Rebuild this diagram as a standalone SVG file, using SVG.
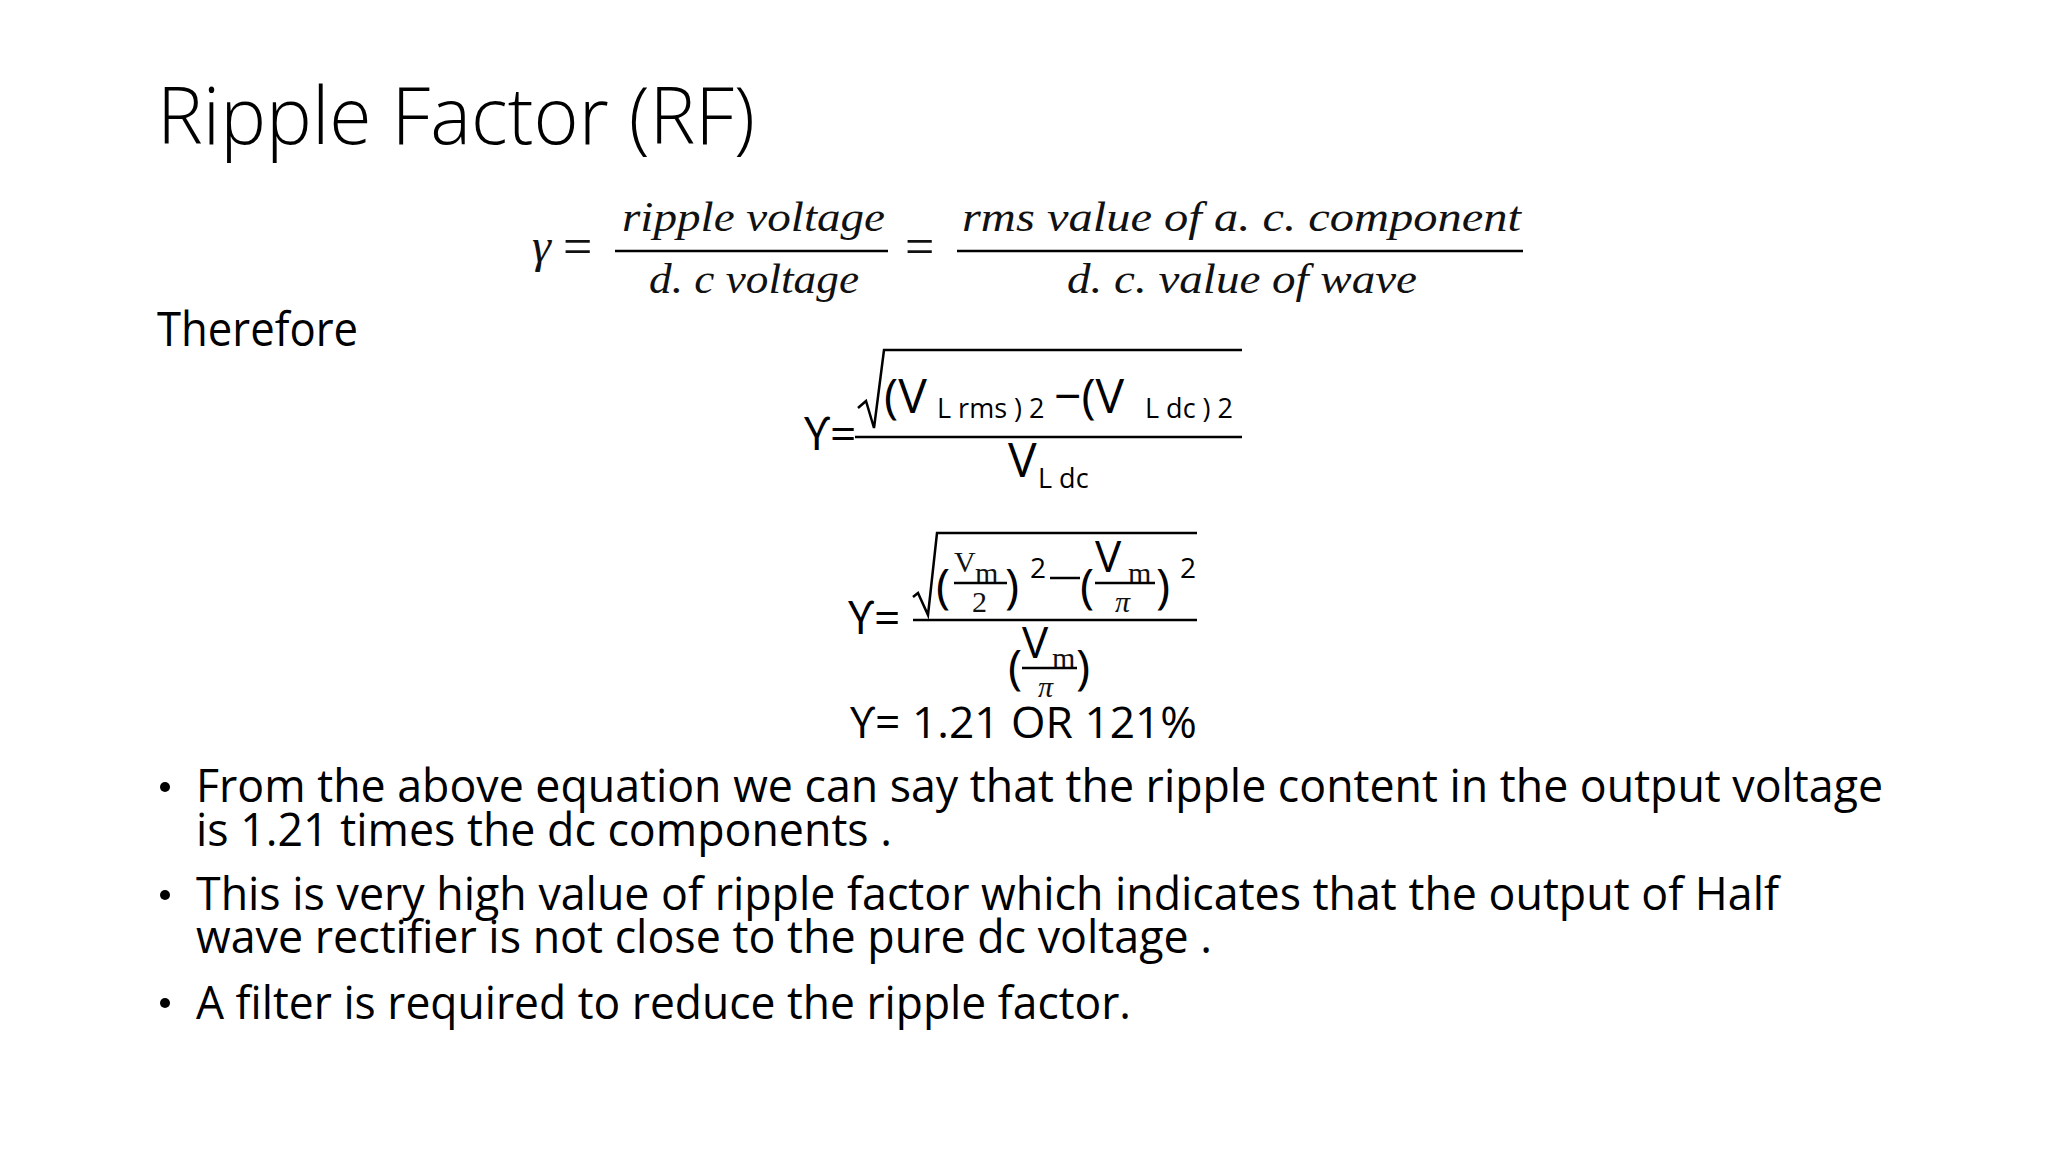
<svg xmlns="http://www.w3.org/2000/svg" width="2048" height="1152" viewBox="0 0 2048 1152">
<style>
.s{font-family:"Open Sans","Liberation Sans",sans-serif;fill:#000}
.i{font-family:"Liberation Serif",serif;font-style:italic;fill:#111}
.m{font-family:"Liberation Serif",serif;fill:#111}
.ln{stroke:#000;stroke-width:2.5;fill:none}
</style>
<rect width="2048" height="1152" fill="#fff"/>
<g id="title"><text class="s" x="157" y="144" font-size="80" font-weight="300" textLength="598" lengthAdjust="spacingAndGlyphs">Ripple Factor (RF)</text></g>
<g id="eq1">
<text class="i" x="532" y="262" font-size="48">γ</text>
<text class="m" x="563" y="264" font-size="52">=</text>
<text class="i" x="622" y="231" font-size="42" textLength="263" lengthAdjust="spacingAndGlyphs">ripple voltage</text>
<line class="ln" x1="615" y1="251" x2="888" y2="251"/>
<text class="i" x="649" y="293" font-size="42" textLength="210" lengthAdjust="spacingAndGlyphs">d. c voltage</text>
<text class="m" x="905" y="264" font-size="52">=</text>
<text class="i" x="962" y="231" font-size="42" textLength="559" lengthAdjust="spacingAndGlyphs">rms value of a. c. component</text>
<line class="ln" x1="957" y1="251" x2="1523" y2="251"/>
<text class="i" x="1067" y="293" font-size="42" textLength="350" lengthAdjust="spacingAndGlyphs">d. c. value of wave</text>
</g>
<g id="therefore"><text class="s" x="157" y="346" font-size="48" textLength="201" lengthAdjust="spacingAndGlyphs">Therefore</text></g>
<g id="eq2">
<text class="s" x="804" y="450" font-size="46">ϒ=</text>
<path class="ln" d="M858 408 L866 401 L874 428 L884 350 L1242 350" stroke-width="2"/>
<text class="s" x="884" y="413" font-size="48">(V</text>
<text class="s" x="937" y="418" font-size="27">L rms ) 2</text>
<text class="s" x="1054" y="413" font-size="48">−(V</text>
<text class="s" x="1145" y="418" font-size="27">L dc ) 2</text>
<line class="ln" x1="855" y1="437" x2="1242" y2="437"/>
<text class="s" x="1008" y="477" font-size="48">V</text>
<text class="s" x="1038" y="488" font-size="27">L dc</text>
</g>
<g id="eq3">
<text class="s" x="848" y="634" font-size="46">ϒ=</text>
<path class="ln" d="M913 597 L918 593 L928 615 L937 533 L1197 533" stroke-width="2"/>
<text class="s" x="936" y="603" font-size="48">(</text>
<text class="m" x="954" y="572" font-size="30">V</text>
<text class="m" x="975" y="583" font-size="30">m</text>
<line class="ln" x1="954" y1="583" x2="1007" y2="583" stroke-width="2"/>
<text class="m" x="972" y="612" font-size="30">2</text>
<text class="s" x="1005" y="603" font-size="48">)</text>
<text class="s" x="1030" y="578" font-size="28">2</text>
<line class="ln" x1="1050" y1="578" x2="1080" y2="578" stroke-width="3"/>
<text class="s" x="1080" y="603" font-size="48">(</text>
<text class="s" x="1095" y="572" font-size="44">V</text>
<text class="m" x="1128" y="583" font-size="30">m</text>
<line class="ln" x1="1095" y1="583" x2="1155" y2="583" stroke-width="2"/>
<text class="i" x="1115" y="612" font-size="30">π</text>
<text class="s" x="1156" y="603" font-size="48">)</text>
<text class="s" x="1180" y="578" font-size="28">2</text>
<line class="ln" x1="913" y1="620" x2="1197" y2="620"/>
<text class="s" x="1008" y="684" font-size="48">(</text>
<text class="s" x="1022" y="658" font-size="44">V</text>
<text class="m" x="1052" y="668" font-size="30">m</text>
<line class="ln" x1="1022" y1="668" x2="1077" y2="668" stroke-width="2"/>
<text class="i" x="1038" y="697" font-size="30">π</text>
<text class="s" x="1076" y="684" font-size="48">)</text>
</g>
<g id="result"><text class="s" x="850" y="738" font-size="44" textLength="347" lengthAdjust="spacingAndGlyphs">ϒ= 1.21 OR 121%</text></g>
<g id="bullets">
<circle cx="165" cy="787" r="5"/>
<text class="s" x="196" y="802" font-size="46" textLength="1687" lengthAdjust="spacingAndGlyphs">From the above equation we can say that the ripple content in the output voltage</text>
<text class="s" x="196" y="846" font-size="46" textLength="696" lengthAdjust="spacingAndGlyphs">is 1.21 times the dc components .</text>
<circle cx="165" cy="895" r="5"/>
<text class="s" x="196" y="910" font-size="46" textLength="1583" lengthAdjust="spacingAndGlyphs">This is very high value of ripple factor which indicates that the output of Half</text>
<text class="s" x="196" y="953" font-size="46" textLength="1016" lengthAdjust="spacingAndGlyphs">wave rectifier is not close to the pure dc voltage .</text>
<circle cx="165" cy="1003" r="5"/>
<text class="s" x="196" y="1019" font-size="46" textLength="935" lengthAdjust="spacingAndGlyphs">A filter is required to reduce the ripple factor.</text>
</g>
</svg>
